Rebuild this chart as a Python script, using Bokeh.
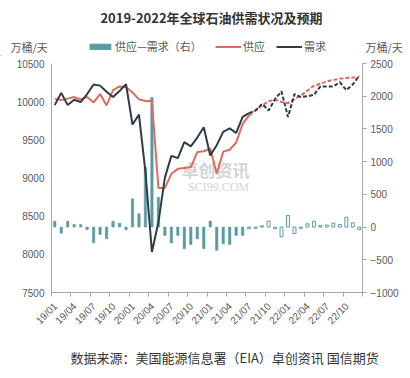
import math
from bokeh.plotting import figure
from bokeh.layouts import column
from bokeh.models import (Range1d, LinearAxis, FixedTicker, Label, Legend, LegendItem,
                          ColumnDataSource)
from bokeh.embed import file_html
from bokeh.resources import INLINE

# ---------------- data ----------------
tick_labels = ["19/01", "19/04", "19/07", "19/10", "20/01", "20/04", "20/07", "20/10",
               "21/01", "21/04", "21/07", "21/10", "22/01", "22/04", "22/07", "22/10"]

supply = [10040, 10020, 10040, 10060, 10030, 10060, 9990, 10100, 9950, 10150, 10200, 10190,
          10120, 10030, 10010, 10010, 8870, 8870, 9055, 9120, 9130, 9140, 9340, 9350,
          9385, 9055, 9345, 9370, 9465, 9710, 9820, 9890, 9950, 10005, 10025, 9995,
          9980, 10035, 10080, 10145, 10210, 10235, 10265, 10285, 10300, 10310, 10315, 10320]

demand = [9955, 10115, 9955, 10025, 9995, 10100, 10225, 10210, 10130, 10060, 10140, 10230,
          9700, 9830, 9080, 8030, 8420, 9005, 9290, 9260, 9470, 9415, 9530, 9665,
          9295, 9430, 9605, 9650, 9590, 9800, 9850, 9885, 9970, 9885, 10035, 10135,
          9800, 10100, 10060, 10070, 10090, 10200, 10200, 10200, 10255, 10150, 10225, 10340]

balance = [90, -95, 90, 40, 40, -40, -240, -113, -180, 90, 60, -40,
           432, 203, 910, 1980, 455, -127, -244, -127, -331, -265, -178, -331,
           92, -356, -255, -265, -127, -127, -25, -20, 20, 90, -25, -150,
           178, -100, -20, 50, 90, 25, 30, 60, 40, 150, 65, -40]

n_months = len(supply)
first_forecast = 30  # index where dashed lines / hollow bars begin

# ---------------- styling ----------------
W = 408
axis_col = "#A6A6A6"
lab_col = "#595959"
bar_col = "#5B9AA0"
red_col = "#E06A5E"
dark_col = "#2E3C48"
cjk = "Noto Sans CJK SC"

# ================= top strip: title, units, legend =================
TOP_H = 56
pt = figure(width=W, height=TOP_H, x_range=Range1d(0, W), y_range=Range1d(0, TOP_H),
            output_backend="svg", toolbar_location=None, min_border=0,
            x_axis_location=None, y_axis_location=None, frame_align=False)
pt.grid.visible = False
pt.outline_line_color = None

def top_label(text, x, y, size, align="left", bold=False, color="#333333"):
    pt.add_layout(Label(x=x, y=y, text=text, text_align=align, text_baseline="middle",
                        text_font=cjk, text_font_style="bold" if bold else "normal",
                        text_font_size=size, text_color=color))

top_label("2019-2022年全球石油供需状况及预期", 211, TOP_H - 16.5, "13px", align="center",
          bold=True, color="#333333")
top_label("万桶/天", 10, TOP_H - 46, "11px", color=lab_col)
top_label("万桶/天", 365, TOP_H - 46, "11px", color=lab_col)

# legend-only renderers (one point each, placed outside the visible strip)
off = [-100, -99]
leg_bar = pt.vbar(x=off[:1], top=[1], width=1, fill_color=bar_col, line_color=bar_col)
leg_sup = pt.line(x=off, y=[0, 0], line_color=red_col, line_width=2)
leg_dem = pt.line(x=off, y=[0, 0], line_color=dark_col, line_width=2)

def add_legend(renderer, label, vx, vy=2):
    lg = Legend(items=[LegendItem(label=label, renderers=[renderer])], location=(vx, vy),
                orientation="horizontal", padding=0, margin=0, spacing=0,
                border_line_color=None, background_fill_alpha=0,
                glyph_width=26, glyph_height=7, label_height=7, label_standoff=2,
                label_text_font=cjk, label_text_font_size="11px",
                label_text_color=lab_col, label_text_baseline="middle")
    pt.add_layout(lg, "center")

add_legend(leg_bar, "供应—需求（右）", 87)
add_legend(leg_sup, "供应", 215)
add_legend(leg_dem, "需求", 276)

# ================= main chart =================
FRAME_TOP, FRAME_BOT, FRAME_L, FRAME_R = 63, 292, 51, 362
MAIN_TOP = TOP_H
MAIN_H = 281
p = figure(width=W, height=MAIN_H, x_range=Range1d(0, n_months), y_range=Range1d(7500, 10500),
           output_backend="svg", toolbar_location=None, frame_align=False,
           min_border_left=FRAME_L, min_border_right=W - FRAME_R,
           min_border_top=FRAME_TOP - MAIN_TOP,
           min_border_bottom=MAIN_TOP + MAIN_H - FRAME_BOT)
p.extra_y_ranges = {"right": Range1d(-1000, 2500)}
p.xgrid.visible = False
p.ygrid.visible = False
p.outline_line_color = None

# bottom axis: tick marks as minor ticks at quarter boundaries, labels slightly shifted
qticks = list(range(0, n_months + 1, 3))
lab_shift = 0.6
lab_pos = [t + lab_shift for t in qticks[:len(tick_labels)]]
p.xaxis.ticker = FixedTicker(ticks=lab_pos, minor_ticks=qticks)
p.xaxis.major_label_overrides = {t: tick_labels[k] for k, t in enumerate(lab_pos)}
p.xaxis.major_label_orientation = math.pi / 4
p.xaxis.axis_line_color = axis_col
p.xaxis.major_tick_line_color = None
p.xaxis.major_tick_out = 0
p.xaxis.major_tick_in = 0
p.xaxis.minor_tick_line_color = axis_col
p.xaxis.minor_tick_out = 4
p.xaxis.minor_tick_in = 0
p.xaxis.major_label_text_font = "Liberation Sans"
p.xaxis.major_label_text_font_size = "10px"
p.xaxis.major_label_text_color = lab_col
p.xaxis.major_label_standoff = 8

# left axis
p.yaxis.ticker = FixedTicker(ticks=list(range(7500, 10501, 500)))
p.yaxis.axis_line_color = axis_col
p.yaxis.major_tick_line_color = None
p.yaxis.major_tick_out = 0
p.yaxis.major_tick_in = 0
p.yaxis.minor_tick_line_color = None
p.yaxis.major_label_standoff = 7
p.yaxis.major_label_text_font = "Liberation Sans"
p.yaxis.major_label_text_font_size = "10px"
p.yaxis.major_label_text_color = lab_col

# right axis
ax_r = LinearAxis(y_range_name="right", ticker=FixedTicker(ticks=list(range(-1000, 2501, 500))))
ax_r.axis_line_color = axis_col
ax_r.major_tick_line_color = axis_col
ax_r.major_tick_out = 4
ax_r.major_tick_in = 0
ax_r.minor_tick_line_color = None
ax_r.major_label_standoff = 4
ax_r.major_label_text_font = "Liberation Sans"
ax_r.major_label_text_font_size = "10px"
ax_r.major_label_text_color = lab_col
p.add_layout(ax_r, "right")

# watermark (inside frame)
fx = lambda X: X - FRAME_L
fy = lambda Y: FRAME_BOT - Y
p.add_layout(Label(x=fx(215), y=fy(168.5), x_units="screen", y_units="screen", text="卓创资讯",
                   text_align="center", text_baseline="middle", text_font=cjk,
                   text_font_style="bold", text_font_size="17px", text_color="#d4d4d4",
                   level="underlay"))
p.add_layout(Label(x=fx(218), y=fy(186), x_units="screen", y_units="screen", text="SCI99.COM",
                   text_align="center", text_baseline="middle", text_font="Liberation Serif",
                   text_font_size="12px", text_color="#d4d4d4", level="underlay"))

# data glyphs
xs = [i + 0.5 for i in range(n_months)]
hist_idx = list(range(0, first_forecast))
fc_idx = list(range(first_forecast, n_months))
src_bar_h = ColumnDataSource(dict(x=[xs[i] for i in hist_idx], top=[balance[i] for i in hist_idx]))
src_bar_f = ColumnDataSource(dict(x=[xs[i] for i in fc_idx], top=[balance[i] for i in fc_idx]))

p.vbar(x="x", top="top", bottom=0, width=0.38, source=src_bar_h, y_range_name="right",
       fill_color=bar_col, line_color=bar_col, line_width=0.5)
p.vbar(x="x", top="top", bottom=0, width=0.45, source=src_bar_f, y_range_name="right",
       fill_color=None, line_color=bar_col, line_width=1)

hl = list(range(0, first_forecast + 1))
fl = list(range(first_forecast, n_months))
p.line([xs[i] for i in hl], [supply[i] for i in hl], line_color=red_col, line_width=2)
p.line([xs[i] for i in fl], [supply[i] for i in fl], line_color=red_col, line_width=2,
       line_dash="4 2")
p.line([xs[i] for i in hl], [demand[i] for i in hl], line_color=dark_col, line_width=2)
p.line([xs[i] for i in fl], [demand[i] for i in fl], line_color=dark_col, line_width=2,
       line_dash="4 2")

# ================= footer strip =================
BOT_TOP = MAIN_TOP + MAIN_H
BOT_H = 376 - BOT_TOP
pb = figure(width=W, height=BOT_H, x_range=Range1d(0, W), y_range=Range1d(0, BOT_H),
            output_backend="svg", toolbar_location=None, min_border=0, frame_align=False,
            x_axis_location=None, y_axis_location=None)
pb.grid.visible = False
pb.outline_line_color = None
pb.add_layout(Label(x=70, y=BOT_H - (357 - BOT_TOP), text="数据来源：美国能源信息署（EIA）卓创资讯 国信期货",
                    text_align="left", text_baseline="middle", text_font=cjk,
                    text_font_size="13px", text_color="#333333"))

layout = column(pt, p, pb, spacing=0)
open("out.html", "w").write(file_html(layout, INLINE))
